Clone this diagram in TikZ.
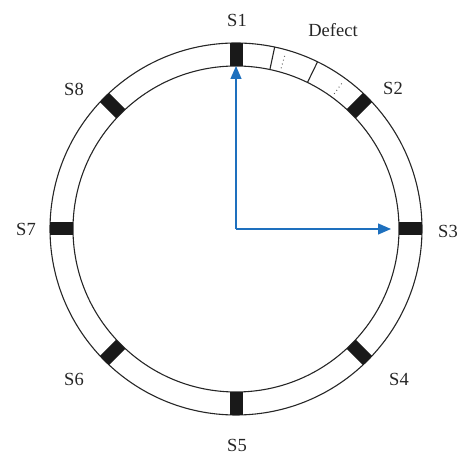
\documentclass[tikz,border=0pt]{standalone}
\usepackage{fontspec}
\setmainfont{Liberation Serif}
\usetikzlibrary{arrows.meta}
\definecolor{arrowblue}{RGB}{30,112,190}
\begin{document}
\begin{tikzpicture}[x=1pt,y=1pt,
  ring/.style={line width=1.1pt, draw=black!85},
  block/.style={fill=black!90, draw=none, minimum width=13pt, minimum height=23pt, inner sep=0pt, outer sep=0pt},
  lbl/.style={font=\fontsize{18.5}{22}\selectfont, text=black!85, inner sep=0pt},
  vec/.style={draw=arrowblue, line width=1.3pt, -{Triangle[length=13pt,width=11pt]}},
  sep/.style={line width=1.1pt, draw=black!85},
  dots/.style={line width=1pt, draw=black!70, dash pattern=on 0.8pt off 3.2pt}]
\useasboundingbox (0,0) rectangle (474,470);
\begin{scope}[shift={(236,241)}]
  \coordinate (o) at (0,0);
  \draw[ring] (o) circle[radius=186];
  \draw[ring] (o) circle[radius=163];
  % sensors
  \foreach \n/\a in {1/90,2/45,3/0,4/-45,5/-90,6/-135,7/180,8/135}{
    \node[block, rotate=\a-90] (s\n) at (\a:174.5) {};
  }
  % defect separators
  \coordinate (d1i) at (78:163); \coordinate (d1o) at (78:186);
  \coordinate (d2i) at (64:163); \coordinate (d2o) at (64:186);
  \draw[sep] (d1i) -- (d1o);
  \draw[sep] (d2i) -- (d2o);
  \coordinate (p1i) at (74.3:167); \coordinate (p1o) at (74.3:180);
  \coordinate (p2i) at (54:167); \coordinate (p2o) at (54:181);
  \draw[dots] (p1i) -- (p1o);
  \draw[dots] (p2i) -- (p2o);
  % vectors
  \draw[vec] (o) -- (s1.south);
  \draw[vec, shorten >=8pt] (o) -- (s3.south);
\end{scope}
\node[lbl] (l1) at (237,450) {S1};
\node[lbl] (ld) at (333,440) {Defect};
\node[lbl] (l2) at (393,382) {S2};
\node[lbl] (l3) at (448,239) {S3};
\node[lbl] (l4) at (399,91) {S4};
\node[lbl] (l5) at (237,25) {S5};
\node[lbl] (l6) at (74,91) {S6};
\node[lbl] (l7) at (26,241) {S7};
\node[lbl] (l8) at (74,381) {S8};
\end{tikzpicture}
\end{document}
